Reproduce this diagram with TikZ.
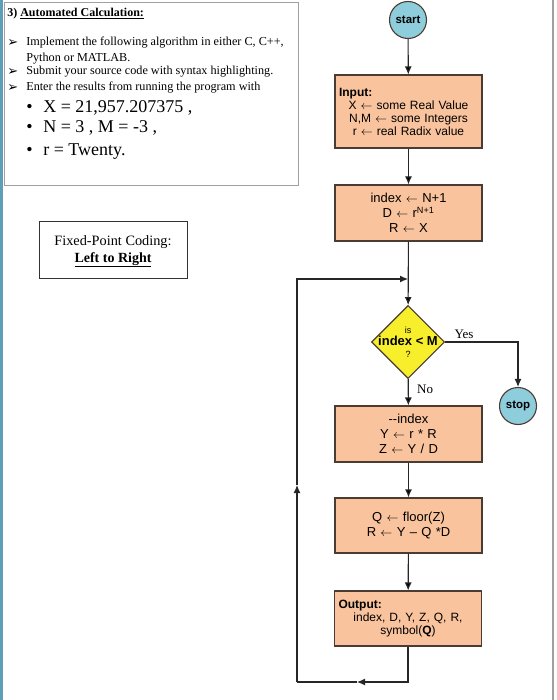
\documentclass[tikz,border=0pt]{standalone}
\usepackage{fontspec}
\setmainfont{Liberation Serif}
\setsansfont{Liberation Sans}
\newfontfamily\symfont{DejaVu Sans}
\usetikzlibrary{shapes.geometric,arrows.meta,positioning}

\definecolor{peach}{HTML}{F9C39D}
\definecolor{boxline}{HTML}{4A3B33}
\definecolor{startblue}{HTML}{8ECDDC}
\definecolor{diayellow}{HTML}{F7EE2C}
\definecolor{framegray}{HTML}{A0A0A0}
\definecolor{edgeteal}{HTML}{5E9FB5}

\newcommand{\assign}{\ $\leftarrow$\ }

\tikzset{
  process/.style={rectangle, draw=boxline, fill=peach, line width=1.1pt,
    minimum width=147pt, text width=139pt, align=center, inner sep=4pt,
    font=\sffamily\fontsize{12}{13}\selectfont},
  bigtext/.style={font=\sffamily\fontsize{13}{15}\selectfont},
  terminal/.style={circle, draw=boxline, fill=startblue, line width=1.1pt,
    minimum size=37pt, inner sep=0pt, font=\sffamily\bfseries\fontsize{11.5}{12}\selectfont},
  decision/.style={diamond, draw=boxline, fill=diayellow, line width=1.1pt,
    minimum width=73pt, minimum height=73pt, inner sep=0pt},
  txt/.style={inner sep=0pt, anchor=base west},
  flow/.style={draw=black!85, line width=1.1pt}
}

\begin{document}
\begin{tikzpicture}[
            x = 1pt, y = -1pt,
            > = {Latex[length=8pt,width=7pt]}, % arrow head style
            semithick % line style
        ]
\useasboundingbox (0,0) rectangle (556,700);

% screen edges
\fill[edgeteal] (0,0) rectangle (3,700);
\draw[framegray, line width=1.5pt] (553,0) -- (553,700);

% task text
\draw[framegray, line width=0.8pt] (4,2) rectangle (298,185);
\node[txt, font=\bfseries\fontsize{12}{14}\selectfont] (title) at (7,17) {3) \underline{Automated Calculation:}};
\node[txt, font=\symfont\fontsize{13}{14}\selectfont] (arr1) at (7,47) {➢};
\node[txt, font=\symfont\fontsize{13}{14}\selectfont] (arr2) at (7,76) {➢};
\node[txt, font=\symfont\fontsize{13}{14}\selectfont] (arr3) at (7,92) {➢};
\node[txt, font=\fontsize{12.2}{14}\selectfont] (line1) at (26,46) {Implement the following algorithm in either C, C++,};
\node[txt, font=\fontsize{12.2}{14}\selectfont] (line2) at (26,62) {Python or MATLAB.};
\node[txt, font=\fontsize{12.2}{14}\selectfont] (line3) at (26,75) {Submit your source code with syntax highlighting.};
\node[txt, font=\fontsize{12.2}{14}\selectfont] (line4) at (26,91) {Enter the results from running the program with};
\node[txt, font=\fontsize{18}{20}\selectfont] (dot1) at (26,113) {•};
\node[txt, font=\fontsize{18}{20}\selectfont] (dot2) at (26,133) {•};
\node[txt, font=\fontsize{18}{20}\selectfont] (dot3) at (26,156) {•};
\node[txt, font=\fontsize{18}{20}\selectfont] (valX) at (43,113) {X = 21,957.207375 ,};
\node[txt, font=\fontsize{18}{20}\selectfont] (valNM) at (43,133) {N = 3 , M = -3 ,};
\node[txt, font=\fontsize{18}{20}\selectfont] (valr) at (43,156) {r = Twenty.};

% coding box
\draw[black!80, line width=1pt] (39,222) rectangle (187,278);
\node[font=\fontsize{14.3}{16}\selectfont, anchor=base] (fixed) at (113,246) {Fixed-Point Coding:};
\node[font=\bfseries\fontsize{14}{16}\selectfont, anchor=base] (dir) at (113,262) {\underline{Left to Right}};

% flowchart
\node[terminal] (start) at (408,20) {start};
\node[process, minimum height=73pt] (input) at (408.5,111.5)
  {\makebox[\hsize][l]{\textbf{Input:}}\\ X\assign some Real Value\\ N,M\assign some Integers\\ r\assign real Radix value};
\node[process, bigtext, minimum height=56pt] (init) at (408.5,213)
  {index\assign N+1\\ D\assign r\textsuperscript{N+1}\\ R\assign X};
\node[decision] (test) at (408,342) {};
\node[align=center, inner sep=0pt, font=\sffamily\fontsize{9}{12}\selectfont] (testtxt) at (test.center)
  {is\\ {\bfseries\fontsize{13}{12}\selectfont index < M}\\ ?};
\node[terminal] (stop) at (518,406) {stop};
\node[process, bigtext, minimum height=56pt] (body) at (408.5,434)
  {-{}-index\\ Y\assign r * R\\ Z\assign Y / D};
\node[process, bigtext, minimum height=55pt] (update) at (408.5,525.5)
  {Q\assign floor(Z)\\ R\assign Y – Q *D};
\node[process, minimum height=55pt] (output) at (408,618.5)
  {\makebox[\hsize][l]{\textbf{Output:}}\\ index, D, Y, Z, Q, R,\\ symbol(\textbf{Q})};

\coordinate (lpmid) at (357,682);
\coordinate (lpbot) at (297,682);
\coordinate (lpup) at (297,485);
\coordinate (lptop) at (297,279);
\coordinate (join) at (408,279);

\path [flow, ->] (start) edge (input);
\path [flow, ->] (input) edge (init);
\path [flow, ->] (init) edge (test);
\draw [flow, ->] (test.east) -| node[pos=0.13, above, inner sep=3pt, font=\fontsize{13}{14}\selectfont] (yes) {Yes} (stop.north);
\path [flow, ->] (test) edge node[pos=0.38, right, xshift=5pt, font=\fontsize{13}{14}\selectfont] (no) {No} (body);
\path [flow, ->] (body) edge (update);
\path [flow, ->] (update) edge (output);
\draw [flow, ->] (output.south) |- (lpmid);
\draw [flow] (lpmid) -- (lpbot);
\draw [flow, ->] (lpbot) -- (lpup);
\draw [flow, ->] (lpup) -- (lptop) -- (join);
\end{tikzpicture}
\end{document}
